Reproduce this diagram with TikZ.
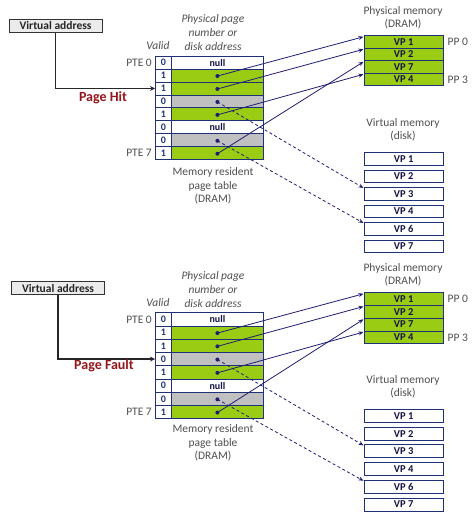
\documentclass[tikz,border=0pt]{standalone}
\usepackage{fontspec}
\setmainfont{Carlito}
\usetikzlibrary{arrows.meta}
\definecolor{lime}{RGB}{155,204,20}
\definecolor{cellgray}{RGB}{192,192,192}
\definecolor{navy}{RGB}{31,50,120}
\definecolor{arrowblue}{RGB}{30,30,115}
\definecolor{labgray}{RGB}{80,80,80}
\definecolor{hitred}{RGB}{150,22,28}
\definecolor{celltext}{RGB}{20,20,70}

\newcommand\drawhalf[6]{%
  % virtual address box
  \node[vabox] (va) at (#1,#2) {Virtual address};
  % page table
  \foreach \v/\f/\t [count=\i from 0] in {0/white/null,1/lime/,1/lime/,0/cellgray/,1/lime/,0/white/null,0/cellgray/,1/lime/} {
    \node[vcell] (v\i) at (155,{\tT+\i*\rh}) {\v};
    \node[acell,fill=\f] (a\i) at (171,{\tT+\i*\rh}) {\t};
  }
  \foreach \i in {1,2,3,4,6,7} {
    \node[dot] (d\i) at ([yshift=-0.5pt]a\i.center) {};
  }
  % labels of the table
  \node[lab,font=\itshape\fontsize{11.5}{12}\selectfont] (valid) at (158,{46+\dy}) {Valid};
  \node[lab,font=\itshape\fontsize{11.5}{14}\selectfont] (ppn) at (213,{33+\dy}) {Physical page\\number or\\disk address};
  \node[lab,anchor=east] (pte0) at ([xshift=-3pt]v0.west) {PTE 0};
  \node[lab,anchor=east] (pte7) at ([xshift=-3pt]v7.west) {PTE 7};
  \node[lab,font=\fontsize{11.5}{13.5}\selectfont] (mrpt) at (213,{186+\dy}) {Memory resident\\page table\\(DRAM)};
  % physical memory
  \foreach \t [count=\i from 0] in {VP 1,VP 2,VP 7,VP 4} {
    \node[pcell] (p\i) at (363.5,{\pT+\i*\pR}) {\t};
  }
  \node[lab,font=\fontsize{11.5}{13}\selectfont] (pm) at (403,{18+\dy}) {Physical memory\\(DRAM)};
  \node[lab] (pp0) at ([xshift=14pt]p0.east) {PP 0};
  \node[lab] (pp3) at ([xshift=14pt]p3.east) {PP 3};
  % virtual memory (disk)
  \foreach \t/\n [count=\i from 0] in {VP 1/1,VP 2/2,VP 3/3,VP 4/4,VP 6/6,VP 7/7} {
    \node[dcell] (m\n) at (363.5,{\vT+\i*\vP}) {\t};
  }
  \node[lab,font=\fontsize{11.5}{12.5}\selectfont] (vm) at (403,{130+\dy}) {Virtual memory\\(disk)};
  % connectors
  \draw[parrow] (d1.center) -- ([yshift=-1.5pt]p0.north west);
  \draw[parrow] (d2.center) -- ([yshift=-1.5pt]p1.north west);
  \draw[parrow] (d7.center) -- ([yshift=-1.5pt]p2.north west);
  \draw[parrow] (d4.center) -- ([yshift=-1.5pt]p3.north west);
  \draw[darrow] (d3.center) -- ([yshift=-1pt]m3.north west);
  \draw[darrow] (d6.center) -- ([yshift=-1pt]m6.north west);
  \draw[vaarrow] (va.south) |- (v#3.west);
  \node[font=\bfseries\fontsize{14}{16}\selectfont,text=hitred] (res) at (#5,#6) {#4};
}

\begin{document}
\begin{tikzpicture}[x=1pt,y=-1pt,
  vabox/.style={draw=black!80,fill=black!8,line width=0.8pt,minimum width=93pt,minimum height=13pt,inner sep=0pt,font=\bfseries\fontsize{11.5}{12}\selectfont,text=black!85},
  vcell/.style={draw=navy,fill=white,line width=0.8pt,anchor=north west,minimum width=16pt,minimum height=\rh pt,inner sep=0pt,font=\bfseries\fontsize{10}{10}\selectfont,text=navy},
  acell/.style={draw=navy,line width=0.8pt,anchor=north west,minimum width=92pt,minimum height=\rh pt,inner sep=0pt,font=\bfseries\fontsize{10}{10}\selectfont,text=celltext},
  pcell/.style={draw=navy,fill=lime,line width=0.8pt,anchor=north west,minimum width=79.5pt,minimum height=\pR pt,inner sep=0pt,font=\bfseries\fontsize{10.5}{10}\selectfont,text=celltext},
  dcell/.style={draw=navy,fill=white,line width=0.8pt,anchor=north west,minimum width=79.5pt,minimum height=\vH pt,inner sep=0pt,font=\bfseries\fontsize{10.5}{10}\selectfont,text=celltext},
  dot/.style={circle,fill=arrowblue,inner sep=0pt,minimum size=4pt},
  lab/.style={text=labgray,align=center,inner sep=0pt,font=\fontsize{11.5}{12}\selectfont},
  parrow/.style={draw=arrowblue,line width=0.8pt,-{Stealth[length=5pt,width=4pt]}},
  darrow/.style={parrow,dashed,dash pattern=on 3pt off 2.5pt},
  vaarrow/.style={draw=black!85,line width=1.3pt,-{Stealth[length=5pt,width=5pt]}}
]
\useasboundingbox (0,0) rectangle (474,513);
\fill[white] (0,0) rectangle (474,513);
\begin{scope}[name prefix=hit-]
  \def\dy{0}\def\tT{55.7}\def\rh{12.95}\def\pT{35.3}\def\pR{12.5}\def\vT{152}\def\vP{17.5}\def\vH{12.5}
  \drawhalf{55.5}{25.7}{2}{Page Hit}{103}{98}
\end{scope}
\begin{scope}[name prefix=fault-]
  \def\dy{257}\def\tT{312.3}\def\rh{13.25}\def\pT{292.3}\def\pR{12.75}\def\vT{409}\def\vP{17.7}\def\vH{13}
  \drawhalf{58}{288.2}{3}{Page Fault}{104}{366}
\end{scope}
\end{tikzpicture}
\end{document}
